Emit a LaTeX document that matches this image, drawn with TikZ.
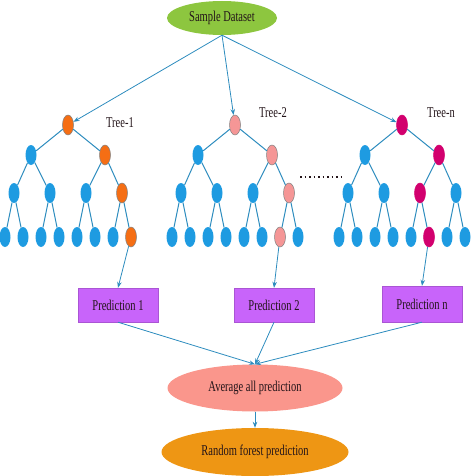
\documentclass[tikz,border=0pt]{standalone}
\usepackage{fontspec}
\setmainfont{Liberation Serif}[FakeStretch=0.7]
\usetikzlibrary{positioning,arrows.meta,shapes.geometric}
\definecolor{DataGreen}{RGB}{141,198,63}
\definecolor{TreeBlue}{RGB}{30,155,225}
\definecolor{EdgeBlue}{RGB}{45,140,190}
\definecolor{TreeOrange}{RGB}{245,110,20}
\definecolor{TreePink}{RGB}{245,150,150}
\definecolor{TreeMagenta}{RGB}{210,0,110}
\definecolor{PredPurple}{RGB}{200,100,250}
\definecolor{AvgSalmon}{RGB}{250,150,140}
\definecolor{ForestOrange}{RGB}{238,150,20}
\definecolor{InkDark}{RGB}{35,20,25}

\begin{document}
\begin{tikzpicture}[
x=1pt, y=-1pt,
font=\fontsize{15}{17}\selectfont,
oval/.style={ellipse, inner sep=0pt, text=InkDark},
knot/.style={ellipse, inner sep=0pt, minimum width=11pt, minimum height=20pt, fill=TreeBlue},
edge/.style={draw=EdgeBlue, line width=1pt},
arr/.style={-{Stealth[length=6pt,width=4.5pt]}, draw=EdgeBlue, line width=0.8pt},
pred/.style={draw=PredPurple!85!black, fill=PredPurple, minimum width=80pt, minimum height=34pt, inner sep=0pt, text=InkDark},
dotrow/.style={draw=InkDark, line width=1.5pt, dash pattern=on 1.5pt off 3pt}
]
\useasboundingbox (0,0) rectangle (474,476);

\node[oval, fill=DataGreen, minimum width=110pt, minimum height=34pt] (data) at (222,18) {Sample Dataset};

% the three trees, highlighted path per tree
\foreach \tr/\x/\col/\bd/\hb/\hc/\hd in {1/68/TreeOrange/gray/2/4/8, 2/235/TreePink/gray/2/4/7, n/402/TreeMagenta/TreeMagenta/2/3/6}{
  \node[knot, fill=\col, draw=\bd, line width=0.5pt] (\tr-1-1) at (\x,125) {};
  \foreach \k/\m/\dx/\y/\h in {2/2/74/155/\hb, 3/4/36/193/\hc, 4/8/18/237/\hd}{
    \foreach \i in {1,...,\m}{
      \ifnum\i=\h\relax
        \node[knot, fill=\col, draw=\bd, line width=0.5pt] (\tr-\k-\i) at ({\x+(\i-(\m+1)/2)*\dx},\y) {};
      \else
        \node[knot] (\tr-\k-\i) at ({\x+(\i-(\m+1)/2)*\dx},\y) {};
      \fi
    }
  }
  \foreach \k/\m in {1/1,2/2,3/4}{
    \foreach \i in {1,...,\m}{
      \pgfmathtruncatemacro\kk{\k+1}
      \pgfmathtruncatemacro\ja{2*\i-1}
      \pgfmathtruncatemacro\jb{2*\i}
      \draw[edge] (\tr-\k-\i) -- (\tr-\kk-\ja) (\tr-\k-\i) -- (\tr-\kk-\jb);
    }
  }
}

\node[text=InkDark] (lbl1) at (120,123) {Tree-1};
\node[text=InkDark] (lbl2) at (273,113) {Tree-2};
\node[text=InkDark] (lbln) at (441,113) {Tree-n};
\draw[dotrow] (300,177) -- (343,177);

\node[pred] (pred1) at (118,305) {Prediction 1};
\node[pred] (pred2) at (274,305) {Prediction 2};
\node[pred, minimum height=36pt] (predn) at (422,304) {Prediction n};

\node[oval, fill=AvgSalmon, minimum width=175pt, minimum height=47pt] (avg) at (255,388) {Average all prediction};
\node[oval, fill=ForestOrange, minimum width=187pt, minimum height=48pt] (rf) at (255,452) {Random forest prediction};

\draw[arr] (data.south) -- (1-1-1);
\draw[arr] (data.south) -- (2-1-1);
\draw[arr] (data.south) -- (n-1-1);
\draw[arr] (1-4-8) -- (pred1.north);
\draw[arr] (2-4-7) -- (pred2.north);
\draw[arr] (n-4-6) -- (predn.north);
\draw[arr] (pred1.south) -- (avg.north);
\draw[arr] (pred2.south) -- (avg.north);
\draw[arr] (predn.south) -- (avg.north);
\draw[arr] (avg) -- (rf);
\end{tikzpicture}
\end{document}
